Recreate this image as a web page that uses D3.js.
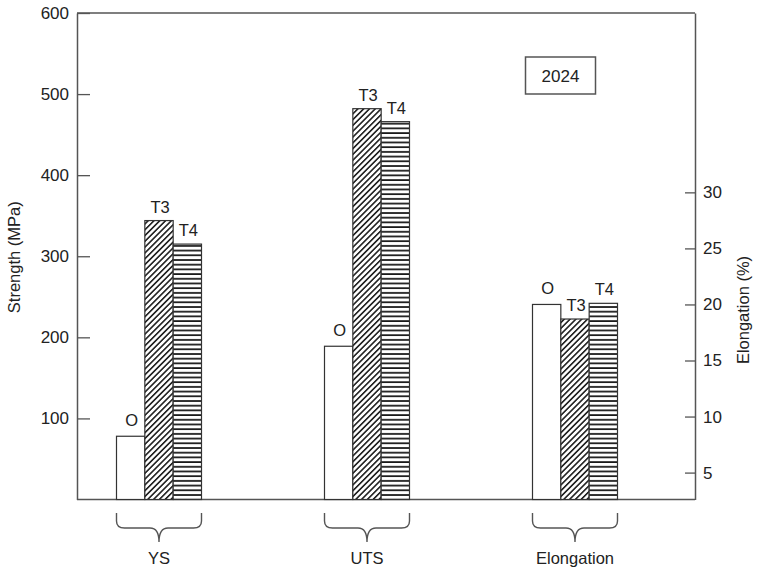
<!DOCTYPE html>
<html>
<head>
<meta charset="utf-8">
<script src="https://cdn.jsdelivr.net/npm/d3@7"></script>
<style>
  html, body { margin: 0; padding: 0; background: #fff; }
  svg { display: block; font-family: "Liberation Sans", Arial, Helvetica, sans-serif; }
</style>
</head>
<body>
<svg id="chart" width="768" height="578"></svg>
<script>
// ---- data ----
const groups = ["YS", "UTS", "Elongation"];
const conditions = ["O", "T3", "T4"];
const ysValues = [78, 344, 315];          // MPa
const utsValues = [189, 482, 466];        // MPa
const elongValues = [20, 18.7, 20.1];     // %
const strengthTicks = [100, 200, 300, 400, 500, 600];
const elongTicks = [5, 10, 15, 20, 25, 30];
const yearLabel = "2024";

const seriesByGroup = { "YS": ysValues, "UTS": utsValues, "Elongation": elongValues };

// ---- layout ----
const svg = d3.select("#chart");
const plotLeft = 77, plotRight = 695, plotTop = 13, plotBottom = 499.5;
const lineColor = "#555";
const textColor = "#222";

const y = d3.scaleLinear().domain([0, 600]).range([plotBottom, plotTop]);
const yR = d3.scaleLinear().domain([2.6, 46]).range([plotBottom, plotTop]);
const x = d3.scalePoint().domain(groups).range([159, 575]);
const xSub = d3.scaleBand().domain(conditions).range([-42.5, 42.5]).padding(0);

// patterns
const defs = svg.append("defs");
const diag = defs.append("pattern").attr("id", "diag")
  .attr("patternUnits", "userSpaceOnUse").attr("width", 4.1).attr("height", 4.1)
  .attr("patternTransform", "rotate(45)");
diag.append("rect").attr("width", 4.1).attr("height", 4.1).attr("fill", "#fff");
diag.append("line").attr("x1", 0.8).attr("y1", 0).attr("x2", 0.8).attr("y2", 4.1)
  .attr("stroke", "#111").attr("stroke-width", 1.5);
const horiz = defs.append("pattern").attr("id", "horiz")
  .attr("patternUnits", "userSpaceOnUse").attr("width", 8).attr("height", 4.7)
  .attr("y", 0.5);
horiz.append("rect").attr("width", 8).attr("height", 4.7).attr("fill", "#fff");
horiz.append("line").attr("x1", 0).attr("x2", 8).attr("y1", 1).attr("y2", 1)
  .attr("stroke", "#111").attr("stroke-width", 1.7);

const fills = { "O": "#fff", "T3": "url(#diag)", "T4": "url(#horiz)" };

// ---- frame ----
svg.append("line").attr("x1", plotLeft).attr("x2", plotRight).attr("y1", plotTop).attr("y2", plotTop)
  .attr("stroke", lineColor).attr("stroke-width", 1.5);
svg.append("line").attr("x1", plotLeft).attr("x2", plotRight).attr("y1", plotBottom).attr("y2", plotBottom)
  .attr("stroke", lineColor).attr("stroke-width", 1.5);

// left axis
const gL = svg.append("g").attr("transform", `translate(${plotLeft},0)`)
  .call(d3.axisLeft(y).tickValues(strengthTicks).tickSize(-13).tickPadding(8).tickSizeOuter(0));
gL.select(".domain").attr("stroke", lineColor).attr("stroke-width", 1.5);
gL.selectAll(".tick line").attr("stroke", lineColor).attr("stroke-width", 1.3);
gL.selectAll(".tick text").attr("font-size", 17).attr("fill", textColor)
  .attr("font-family", "Liberation Sans, Arial, sans-serif");

// right axis
const gR = svg.append("g").attr("transform", `translate(${plotRight},0)`)
  .call(d3.axisRight(yR).tickValues(elongTicks).tickSize(-10).tickPadding(8).tickSizeOuter(0));
gR.select(".domain").attr("stroke", lineColor).attr("stroke-width", 1.5);
gR.selectAll(".tick line").attr("stroke", lineColor).attr("stroke-width", 1.3);
gR.selectAll(".tick text").attr("font-size", 17).attr("fill", textColor)
  .attr("font-family", "Liberation Sans, Arial, sans-serif");

// axis titles
svg.append("text").attr("transform", `translate(20,${(plotTop + plotBottom) / 2 + 1}) rotate(-90)`)
  .attr("text-anchor", "middle").attr("font-size", 16.5).attr("fill", textColor)
  .text("Strength (MPa)");
svg.append("text").attr("transform", `translate(749,310) rotate(-90)`)
  .attr("text-anchor", "middle").attr("font-size", 16.5).attr("fill", textColor)
  .text("Elongation (%)");

// ---- bars ----
groups.forEach(gname => {
  const scale = gname === "Elongation" ? yR : y;
  const vals = seriesByGroup[gname];
  const g = svg.append("g").attr("transform", `translate(${x(gname)},0)`);
  conditions.forEach((c, i) => {
    const v = vals[i];
    g.append("rect")
      .attr("x", xSub(c)).attr("width", xSub.bandwidth())
      .attr("y", scale(v)).attr("height", plotBottom - scale(v))
      .attr("fill", fills[c]).attr("stroke", "#333").attr("stroke-width", 1.2);
    g.append("text")
      .attr("x", xSub(c) + xSub.bandwidth() / 2 + 1)
      .attr("y", scale(v) - (c === "O" ? 10 : 8))
      .attr("text-anchor", "middle").attr("font-size", 16.5).attr("fill", textColor)
      .text(c);
  });

  // brace
  const x0 = x(gname) + xSub.range()[0], x1 = x(gname) + xSub.range()[1], xc = x(gname);
  const yTop = 513, yH = 528, yTip = 542;
  const p = d3.path();
  p.moveTo(x0, yTop);
  p.lineTo(x0, yH - 7);
  p.quadraticCurveTo(x0, yH, x0 + 8, yH);
  p.lineTo(xc - 9, yH);
  p.quadraticCurveTo(xc, yH, xc, yTip);
  p.quadraticCurveTo(xc, yH, xc + 9, yH);
  p.lineTo(x1 - 8, yH);
  p.quadraticCurveTo(x1, yH, x1, yH - 7);
  p.lineTo(x1, yTop);
  svg.append("path").attr("d", p.toString()).attr("fill", "none")
    .attr("stroke", lineColor).attr("stroke-width", 1.4);
  svg.append("text").attr("x", xc).attr("y", 564).attr("text-anchor", "middle")
    .attr("font-size", 16.5).attr("fill", textColor).text(gname);
});

// ---- year box ----
svg.append("rect").attr("x", 525.5).attr("y", 57).attr("width", 70).attr("height", 37)
  .attr("fill", "#fff").attr("stroke", lineColor).attr("stroke-width", 1.5);
svg.append("text").attr("x", 560.5).attr("y", 81.5).attr("text-anchor", "middle")
  .attr("font-size", 17).attr("fill", textColor).text(yearLabel);
</script>
</body>
</html>
